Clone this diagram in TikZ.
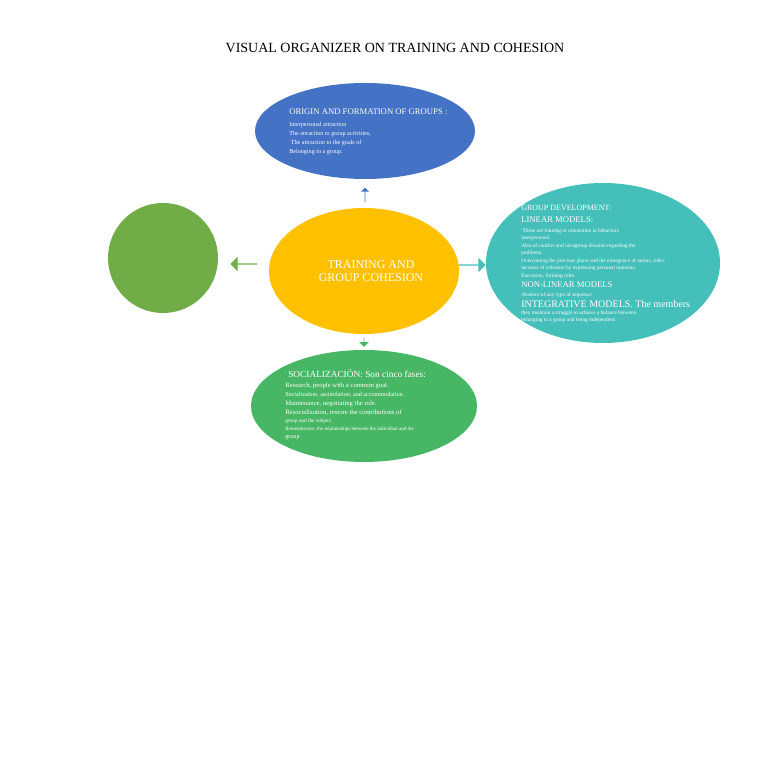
\documentclass[tikz,border=0pt]{standalone}
\usepackage{fontspec}
\setmainfont{Liberation Serif}
\usetikzlibrary{shapes.arrows}
\definecolor{cblue}{HTML}{4472C4}
\definecolor{cyel}{HTML}{FFC000}
\definecolor{cteal}{HTML}{45BFB9}
\definecolor{cgreen}{HTML}{47B765}
\definecolor{clgreen}{HTML}{70AD47}
\begin{document}
\begin{tikzpicture}[x=0.75pt,y=-0.75pt,
 el/.style={ellipse,draw=none},
 t/.style={anchor=west,text=white,inner sep=0pt,font=\fontsize{4.6}{5}\selectfont},
 h/.style={anchor=west,text=white,inner sep=0pt,font=\fontsize{6.5}{7}\selectfont},
 arr/.style={single arrow,draw=none,inner sep=0pt,minimum height=#1,single arrow head extend=2.5pt}]
\useasboundingbox (0,0) rectangle (768,762);
\fill[white] (0,0) rectangle (768,762);
\node[font=\fontsize{10.5}{12}\selectfont] (title) at (395,48) {VISUAL ORGANIZER ON TRAINING AND COHESION};
\fill[cblue] (365,131) ellipse [x radius=110,y radius=48];
\fill[cyel] (364,271) ellipse [x radius=95,y radius=63];
\fill[cteal] (603,263) ellipse [x radius=117,y radius=80];
\fill[cgreen] (364,406) ellipse [x radius=113,y radius=56];
\fill[clgreen] (163,258) ellipse [x radius=55,y radius=55];
\node (center) at (371,271) [text=white,align=center,font=\fontsize{9}{9.5}\selectfont] {TRAINING AND\\GROUP COHESION};
\node[arr=11pt,fill=cblue,minimum width=6pt,rotate=90] (au) at (365,195) {};
\node[arr=20pt,fill=clgreen,minimum width=11pt,rotate=180] (al) at (244,264) {};
\node[arr=20pt,fill=cteal,minimum width=11pt] (ar) at (472,265) {};
\node[arr=7pt,fill=cgreen,minimum width=7pt,rotate=-90] (ad) at (364,342) {};
% top
\node[h] (t0) at (289,112) {ORIGIN AND FORMATION OF GROUPS :};
\node[t] (t1) at (289,125) {Interpersonal attraction};
\node[t] (t2) at (289,134) {The attraction to group activities,};
\node[t] (t3) at (289,143) {\ The attraction to the goals of};
\node[t] (t4) at (289,152) {Belonging to a group.};
% right
\node[h,font=\fontsize{6}{6.5}\selectfont] (r0) at (521,208) {GROUP DEVELOPMENT:};
\node[h] (r1) at (521,220) {LINEAR MODELS:};
\node[t,font=\fontsize{4}{4.5}\selectfont] at (521,231) {\ These are training or orientation in behaviors};
\node[t,font=\fontsize{4}{4.5}\selectfont] at (521,238) {interpersonal.};
\node[t,font=\fontsize{4}{4.5}\selectfont] at (521,246) {Also of conflict and intragroup division regarding the};
\node[t,font=\fontsize{4}{4.5}\selectfont] at (521,253) {problems.};
\node[t,font=\fontsize{4}{4.5}\selectfont] at (521,261) {Overcoming the previous phase and the emergence of norms, roles,};
\node[t,font=\fontsize{4}{4.5}\selectfont] at (521,268) {increase of cohesion by expressing personal opinions.};
\node[t,font=\fontsize{4}{4.5}\selectfont] at (521,276) {Execution, forming roles};
\node[h] at (521,285) {NON-LINEAR MODELS};
\node[t,font=\fontsize{4}{4.5}\selectfont] at (521,295) {Absence of any type of sequence};
\node[h,font=\fontsize{7.5}{8}\selectfont] at (521,304) {INTEGRATIVE MODELS. The members};
\node[t,font=\fontsize{4}{4.5}\selectfont] at (521,313) {they maintain a struggle to achieve a balance between};
\node[t,font=\fontsize{4}{4.5}\selectfont] at (521,320) {belonging to a group and being independent};
% bottom
\node[h,font=\fontsize{7}{7.5}\selectfont] (b0) at (288,374) {SOCIALIZACIÓN: Son cinco fases:};
\node[t,font=\fontsize{5}{5.5}\selectfont] at (285,386) {Research, people with a common goal.};
\node[t] at (285,395) {Socialization, assimilation, and accommodation.};
\node[t,font=\fontsize{5}{5.5}\selectfont] at (285,404) {Maintenance, negotiating the role.};
\node[t,font=\fontsize{5}{5.5}\selectfont] at (285,413) {Resocialization, restore the contributions of};
\node[t,font=\fontsize{4}{4.5}\selectfont] at (285,421) {group and the subject};
\node[t,font=\fontsize{3.8}{4.2}\selectfont] at (285,429) {Remembrance, the relationships between the individual and the};
\node[t] at (285,438) {group};
\end{tikzpicture}
\end{document}
